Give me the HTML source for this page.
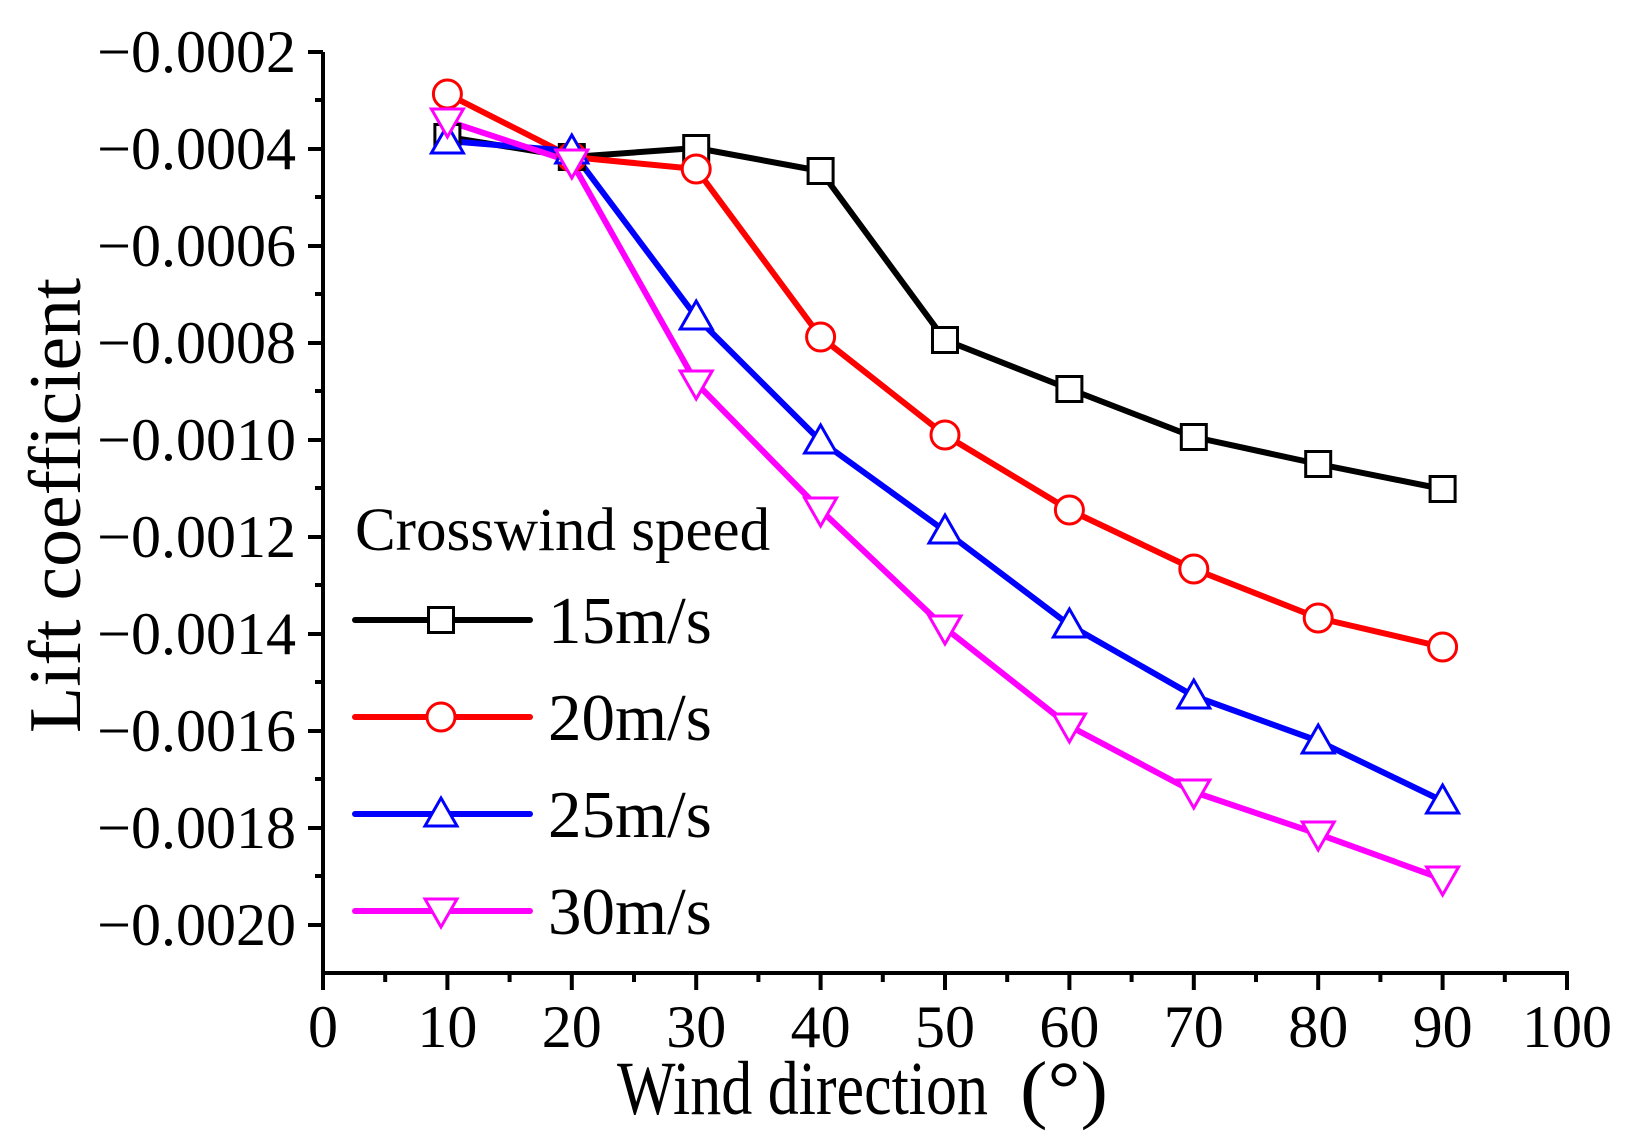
<!DOCTYPE html>
<html><head><meta charset="utf-8"><style>html,body{margin:0;padding:0;background:#fff}svg{display:block}</style></head>
<body>
<svg width="1628" height="1142" viewBox="0 0 1628 1142" xmlns="http://www.w3.org/2000/svg" font-family="Liberation Serif, serif">
<rect width="1628" height="1142" fill="#fff"/>
<g stroke="#000" stroke-width="4" fill="none">
<path d="M323,52 V975 M321,973 H1569"/>
<path d="M308,52H323 M308,149H323 M308,246H323 M308,343H323 M308,440H323 M308,537H323 M308,634H323 M308,731H323 M308,828H323 M308,925H323
M315,100H323 M315,197H323 M315,294H323 M315,391H323 M315,488H323 M315,585H323 M315,682H323 M315,779H323 M315,876H323"/>
<path d="M323,973V990 M447.4,973V990 M571.8,973V990 M696.2,973V990 M820.6,973V990 M945,973V990 M1069.4,973V990 M1193.8,973V990 M1318.2,973V990 M1442.6,973V990 M1567,973V990
M385.2,973V982 M509.6,973V982 M634,973V982 M758.4,973V982 M882.8,973V982 M1007.2,973V982 M1131.6,973V982 M1256,973V982 M1380.4,973V982 M1504.8,973V982"/>
</g>
<g font-size="60" text-anchor="end" fill="#000">
<text x="296" y="72">−0.0002</text><text x="296" y="169">−0.0004</text><text x="296" y="266">−0.0006</text>
<text x="296" y="363">−0.0008</text><text x="296" y="460">−0.0010</text><text x="296" y="557">−0.0012</text>
<text x="296" y="654">−0.0014</text><text x="296" y="751">−0.0016</text><text x="296" y="848">−0.0018</text><text x="296" y="945">−0.0020</text>
</g>
<g font-size="60" text-anchor="middle" fill="#000">
<text x="323" y="1047">0</text><text x="447.4" y="1047">10</text><text x="571.8" y="1047">20</text><text x="696.2" y="1047">30</text>
<text x="820.6" y="1047">40</text><text x="945" y="1047">50</text><text x="1069.4" y="1047">60</text><text x="1193.8" y="1047">70</text>
<text x="1318.2" y="1047">80</text><text x="1442.6" y="1047">90</text><text x="1567" y="1047">100</text>
</g>
<text x="617" y="1114" font-size="76" textLength="371" lengthAdjust="spacingAndGlyphs">Wind direction</text>
<text x="1020" y="1114" font-size="76" textLength="88" lengthAdjust="spacingAndGlyphs">(°)</text>
<text transform="translate(80,733) rotate(-90)" font-size="74" textLength="455" lengthAdjust="spacingAndGlyphs">Lift coefficient</text>

<g stroke-width="6" fill="none" stroke-linejoin="round">
<polyline stroke="#000" points="447.4,137 571.8,157 696.2,148 820.6,171 945,340 1069.4,389 1193.8,437 1318.2,464 1442.6,489"/>
<polyline stroke="#f00" points="447.4,94 571.8,157 696.2,169 820.6,337 945,435 1069.4,510 1193.8,569 1318.2,618 1442.6,647"/>
<polyline stroke="#00f" points="447.4,141 571.8,151 696.2,317 820.6,441 945,531 1069.4,625 1193.8,696 1318.2,741 1442.6,801"/>
<polyline stroke="#f0f" points="447.4,121 571.8,162 696.2,383 820.6,510 945,628 1069.4,726 1193.8,792 1318.2,834 1442.6,879"/>
</g>
<defs>
<rect id="sq" x="-12.5" y="-12.5" width="25" height="25" fill="#fff" stroke="#000" stroke-width="3"/>
<circle id="ci" r="14" fill="#fff" stroke="#f00" stroke-width="3"/>
<path id="tu" d="M0,-16 L16,12 L-16,12 Z" fill="#fff" stroke="#00f" stroke-width="3"/>
<path id="td" d="M0,16 L16,-12 L-16,-12 Z" fill="#fff" stroke="#f0f" stroke-width="3"/>
</defs>
<g>
<use href="#sq" x="447.4" y="137"/><use href="#sq" x="571.8" y="157"/><use href="#sq" x="696.2" y="148"/><use href="#sq" x="820.6" y="171"/><use href="#sq" x="945" y="340"/><use href="#sq" x="1069.4" y="389"/><use href="#sq" x="1193.8" y="437"/><use href="#sq" x="1318.2" y="464"/><use href="#sq" x="1442.6" y="489"/>
<use href="#ci" x="447.4" y="94"/><use href="#ci" x="571.8" y="157"/><use href="#ci" x="696.2" y="169"/><use href="#ci" x="820.6" y="337"/><use href="#ci" x="945" y="435"/><use href="#ci" x="1069.4" y="510"/><use href="#ci" x="1193.8" y="569"/><use href="#ci" x="1318.2" y="618"/><use href="#ci" x="1442.6" y="647"/>
<use href="#tu" x="447.4" y="141"/><use href="#tu" x="571.8" y="151"/><use href="#tu" x="696.2" y="317"/><use href="#tu" x="820.6" y="441"/><use href="#tu" x="945" y="531"/><use href="#tu" x="1069.4" y="625"/><use href="#tu" x="1193.8" y="696"/><use href="#tu" x="1318.2" y="741"/><use href="#tu" x="1442.6" y="801"/>
<use href="#td" x="447.4" y="121"/><use href="#td" x="571.8" y="162"/><use href="#td" x="696.2" y="383"/><use href="#td" x="820.6" y="510"/><use href="#td" x="945" y="628"/><use href="#td" x="1069.4" y="726"/><use href="#td" x="1193.8" y="792"/><use href="#td" x="1318.2" y="834"/><use href="#td" x="1442.6" y="879"/>
</g>
<text x="355" y="550" font-size="61">Crosswind speed</text>
<g stroke-width="6" stroke-linecap="round">
<line x1="355" y1="620" x2="530" y2="620" stroke="#000"/>
<line x1="355" y1="717" x2="530" y2="717" stroke="#f00"/>
<line x1="355" y1="814" x2="530" y2="814" stroke="#00f"/>
<line x1="355" y1="911" x2="530" y2="911" stroke="#f0f"/>
</g>
<use href="#sq" x="441" y="620"/><use href="#ci" x="441" y="717"/><use href="#tu" x="441" y="814"/><use href="#td" x="441" y="911"/>
<g font-size="67">
<text x="548" y="643">15m/s</text><text x="548" y="740">20m/s</text><text x="548" y="837">25m/s</text><text x="548" y="934">30m/s</text>
</g>
</svg>
</body></html>
